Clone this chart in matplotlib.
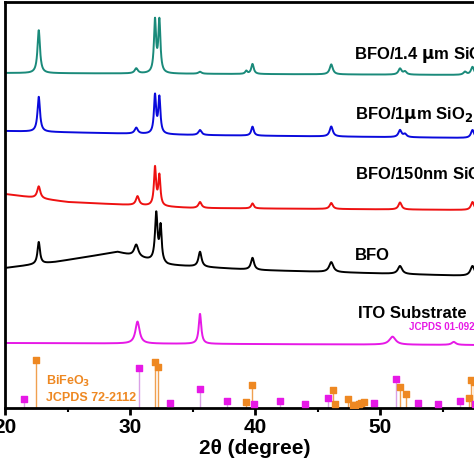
import matplotlib
matplotlib.use('Agg')
import matplotlib.pyplot as plt
import numpy as np

plt.rcParams['font.family'] = ['Liberation Sans', 'DejaVu Sans']
plt.rcParams['font.weight'] = 'bold'

# peak tables: position (deg), height above baseline, width
peaks_teal = [(22.7, 43, 0.12), (32.0, 52, 0.1), (32.35, 52, 0.1), (30.5, 5, 0.15),
              (39.3, 3, 0.1), (39.8, 10, 0.12), (46.1, 10, 0.15), (51.6, 6, 0.15),
              (52.0, 3, 0.15), (56.8, 3, 0.15), (57.4, 8, 0.15), (35.6, 2, 0.15)]
peaks_blue = [(22.7, 35, 0.12), (32.0, 38, 0.1), (32.35, 36, 0.1), (30.5, 6, 0.15),
              (35.6, 5, 0.15), (39.8, 9, 0.12), (46.1, 10, 0.15), (51.6, 7, 0.15),
              (52.0, 3, 0.15), (57.4, 8, 0.15)]
peaks_red = [(22.7, 12, 0.15), (32.0, 38, 0.1), (32.35, 30, 0.1), (30.6, 9, 0.15),
             (35.6, 6, 0.15), (39.8, 5, 0.12), (46.1, 6, 0.15), (51.6, 7, 0.15),
             (57.4, 8, 0.15)]
peaks_black = [(22.7, 22, 0.12), (30.5, 12, 0.2), (32.1, 48, 0.12), (32.45, 35, 0.1),
               (35.6, 15, 0.15), (39.8, 12, 0.15), (46.1, 10, 0.2), (51.6, 8, 0.2),
               (57.4, 10, 0.2)]
peaks_ito = [(30.6, 22, 0.2), (35.6, 30, 0.12), (51.0, 8, 0.3), (55.9, 3, 0.2)]

# baselines as (deg, pixel-y) knots
base_teal = ([20, 57.5], [73, 75])
base_blue = ([20, 35, 57.5], [131, 135, 138])
base_red = ([20, 25, 35, 57.5], [194, 202, 208, 210])
base_black = ([20, 24, 29, 33, 40, 57.5], [268, 262, 252, 265, 270, 276])
base_ito = ([20, 57.5], [343, 345])

# reference sticks: position, top pixel-y
bfo_pos = [22.5, 32.0, 32.25, 39.3, 39.8, 46.2, 46.4, 47.4, 47.8, 48.0, 48.3, 48.5, 48.7,
           51.6, 52.1, 57.1, 57.3, 57.5]
bfo_top = [360, 362, 367, 402, 385, 390, 404, 399, 405, 405, 404, 403, 402, 387, 394, 398, 380, 382]
ito_pos = [21.5, 30.7, 33.2, 35.6, 37.8, 39.9, 42.0, 44.0, 45.8, 49.5, 51.3, 53.0, 54.6, 56.4, 57.6]
ito_top = [399, 368, 403, 389, 401, 404, 401, 404, 398, 403, 379, 403, 404, 401, 404]

BOT = 408

x = np.linspace(20, 60, 3000)


def trace(base, peaks):
    y = np.interp(x, base[0], base[1])
    for p, h, w in peaks:
        y = y - h / (1 + ((x - p) / w) ** 2)
    return BOT - y


fig = plt.figure(figsize=(4.74, 4.74), dpi=100)
ax = fig.add_axes([5 / 474, (474 - BOT) / 474, 500 / 474, 406 / 474])

ax.plot(x, trace(base_teal, peaks_teal), color='#1a8a7a', lw=1.4)
ax.plot(x, trace(base_blue, peaks_blue), color='#0a0adc', lw=1.4)
ax.plot(x, trace(base_red, peaks_red), color='#ee1111', lw=1.4)
ax.plot(x, trace(base_black, peaks_black), color='black', lw=1.4)
ax.plot(x, trace(base_ito, peaks_ito), color='#e619e6', lw=1.4)

for p, t in zip(bfo_pos, bfo_top):
    ax.plot([p, p], [0, BOT - t], color='#f0a050', lw=1)
ax.scatter(bfo_pos, [BOT - t for t in bfo_top], marker='s', s=22, color='#ee8822', zorder=3)
for p, t in zip(ito_pos, ito_top):
    ax.plot([p, p], [0, BOT - t], color='#d9a0e6', lw=1)
ax.scatter(ito_pos, [BOT - t for t in ito_top], marker='s', s=22, color='#e619e6', zorder=3)

lbl = dict(fontsize=12, fontweight='bold', ha='left', va='center')
ax.text(47.9, BOT - 55, 'BFO/1.4 $\\mathbf{\\mu}$m SiO$_\\mathbf{2}$', **lbl)
ax.text(48.0, BOT - 115, 'BFO/1$\\mathbf{\\mu}$m SiO$_\\mathbf{2}$', **lbl)
ax.text(48.0, BOT - 175, 'BFO/150nm SiO$_\\mathbf{2}$', **lbl)
ax.text(48.0, BOT - 255, 'BFO', **lbl)
ax.text(48.2, BOT - 313, 'ITO Substrate', **lbl)
ax.text(52.3, BOT - 327, 'JCPDS 01-0929', color='#e619e6', fontsize=7, fontweight='bold', va='center')
ax.text(23.3, BOT - 381, 'BiFeO$_3$', color='#ee8822', fontsize=9, fontweight='bold', va='center')
ax.text(23.3, BOT - 398, 'JCPDS 72-2112', color='#ee8822', fontsize=9, fontweight='bold', va='center')

ax.set_xlim(20, 60)
ax.set_ylim(0, 406)
ax.set_yticks([])
ax.set_xticks([20, 30, 40, 50, 60])
ax.set_xticks(np.arange(25, 60, 10), minor=True)
ax.tick_params(axis='x', which='major', direction='out', length=5, width=2, labelsize=15, pad=2)
ax.tick_params(axis='x', which='minor', direction='out', length=3, width=1.5)
for lab in ax.get_xticklabels():
    lab.set_fontweight('bold')
for s in ax.spines.values():
    s.set_linewidth(2)
ax.set_xlabel('2θ (degree)', fontsize=15, fontweight='bold', labelpad=2)

fig.savefig('out.png', dpi=100)
